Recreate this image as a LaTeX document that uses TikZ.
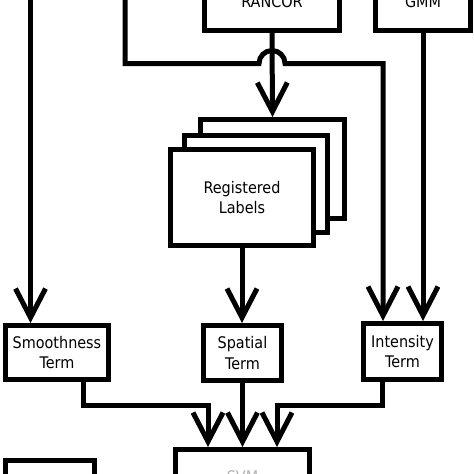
\documentclass[tikz,border=0pt]{standalone}
\usepackage{fontspec}
\setmainfont{DejaVu Sans Condensed}
\usetikzlibrary{arrows.meta}
\begin{document}
\begin{tikzpicture}[x=1pt,y=1pt,
  box/.style={draw=black,line width=5pt,fill=white,rectangle,inner sep=0pt,align=center,
    font=\fontsize{16}{20.5}\selectfont},
  conn/.style={line width=5pt,draw=black},
  arr/.style={conn,-{Straight Barb[length=29pt,width=30pt]}}]
\useasboundingbox (0,0) rectangle (474,-474);
\fill[white] (0,0) rectangle (474,-474);
% boxes
\node[box,minimum width=135pt,minimum height=57pt] (rancor) at (272,-2) {RANCOR};
\node[box,minimum width=95pt,minimum height=57pt] (gmm) at (423,-2) {GMM};
\node[box,minimum width=144pt,minimum height=99pt] (back) at (272.5,-169) {};
\node[box,minimum width=143pt,minimum height=97pt] (middle) at (256,-184) {};
\node[box,minimum width=143pt,minimum height=96pt] (front) at (242,-197.5) {Registered\\Labels};
\node[box,minimum width=103pt,minimum height=54pt] (smooth) at (57,-352.5) {Smoothness\\Term};
\node[box,minimum width=78pt,minimum height=55pt] (spatial) at (242.5,-353) {Spatial\\Term};
\node[box,minimum width=78pt,minimum height=56pt] (intensity) at (402.5,-351.5) {Intensity\\Term};
\node[box,text=gray!60,minimum width=134pt,minimum height=55pt] (svm) at (242.5,-477) {SVM};
\node[box,minimum width=89pt,minimum height=59pt] (blbox) at (50,-490) {};
% free ends
\coordinate (topA) at (30.5,10);
\coordinate (topB) at (125,10);
\coordinate (cB) at (125,-63.5);
\coordinate (jL) at (259,-63.5);
\coordinate (cR) at (383,-63.5);
\coordinate (sm) at (83,-405.5);
\coordinate (svl) at (208,-405.5);
\coordinate (in) at (382,-405.5);
\coordinate (svr) at (277,-405.5);
% connectors
\draw[arr] (topA) -- (topA |- smooth.north);
\draw[arr] (rancor.south) -- (back.north);
\draw[arr] (topB) -- (cB) -- (jL) arc (180:0:13) -- (cR) -- (cR |- intensity.north);
\draw[arr] (gmm.south -| 423,0) -- (423,0 |- intensity.north);
\draw[arr] (front.south) -- (front.south |- spatial.north);
\draw[arr] (sm |- smooth.south) -- (sm) -- (svl) -- (svl |- svm.north);
\draw[arr] (spatial.south) -- (spatial.south |- svm.north);
\draw[arr] (in |- intensity.south) -- (in) -- (svr) -- (svr |- svm.north);
\end{tikzpicture}
\end{document}
